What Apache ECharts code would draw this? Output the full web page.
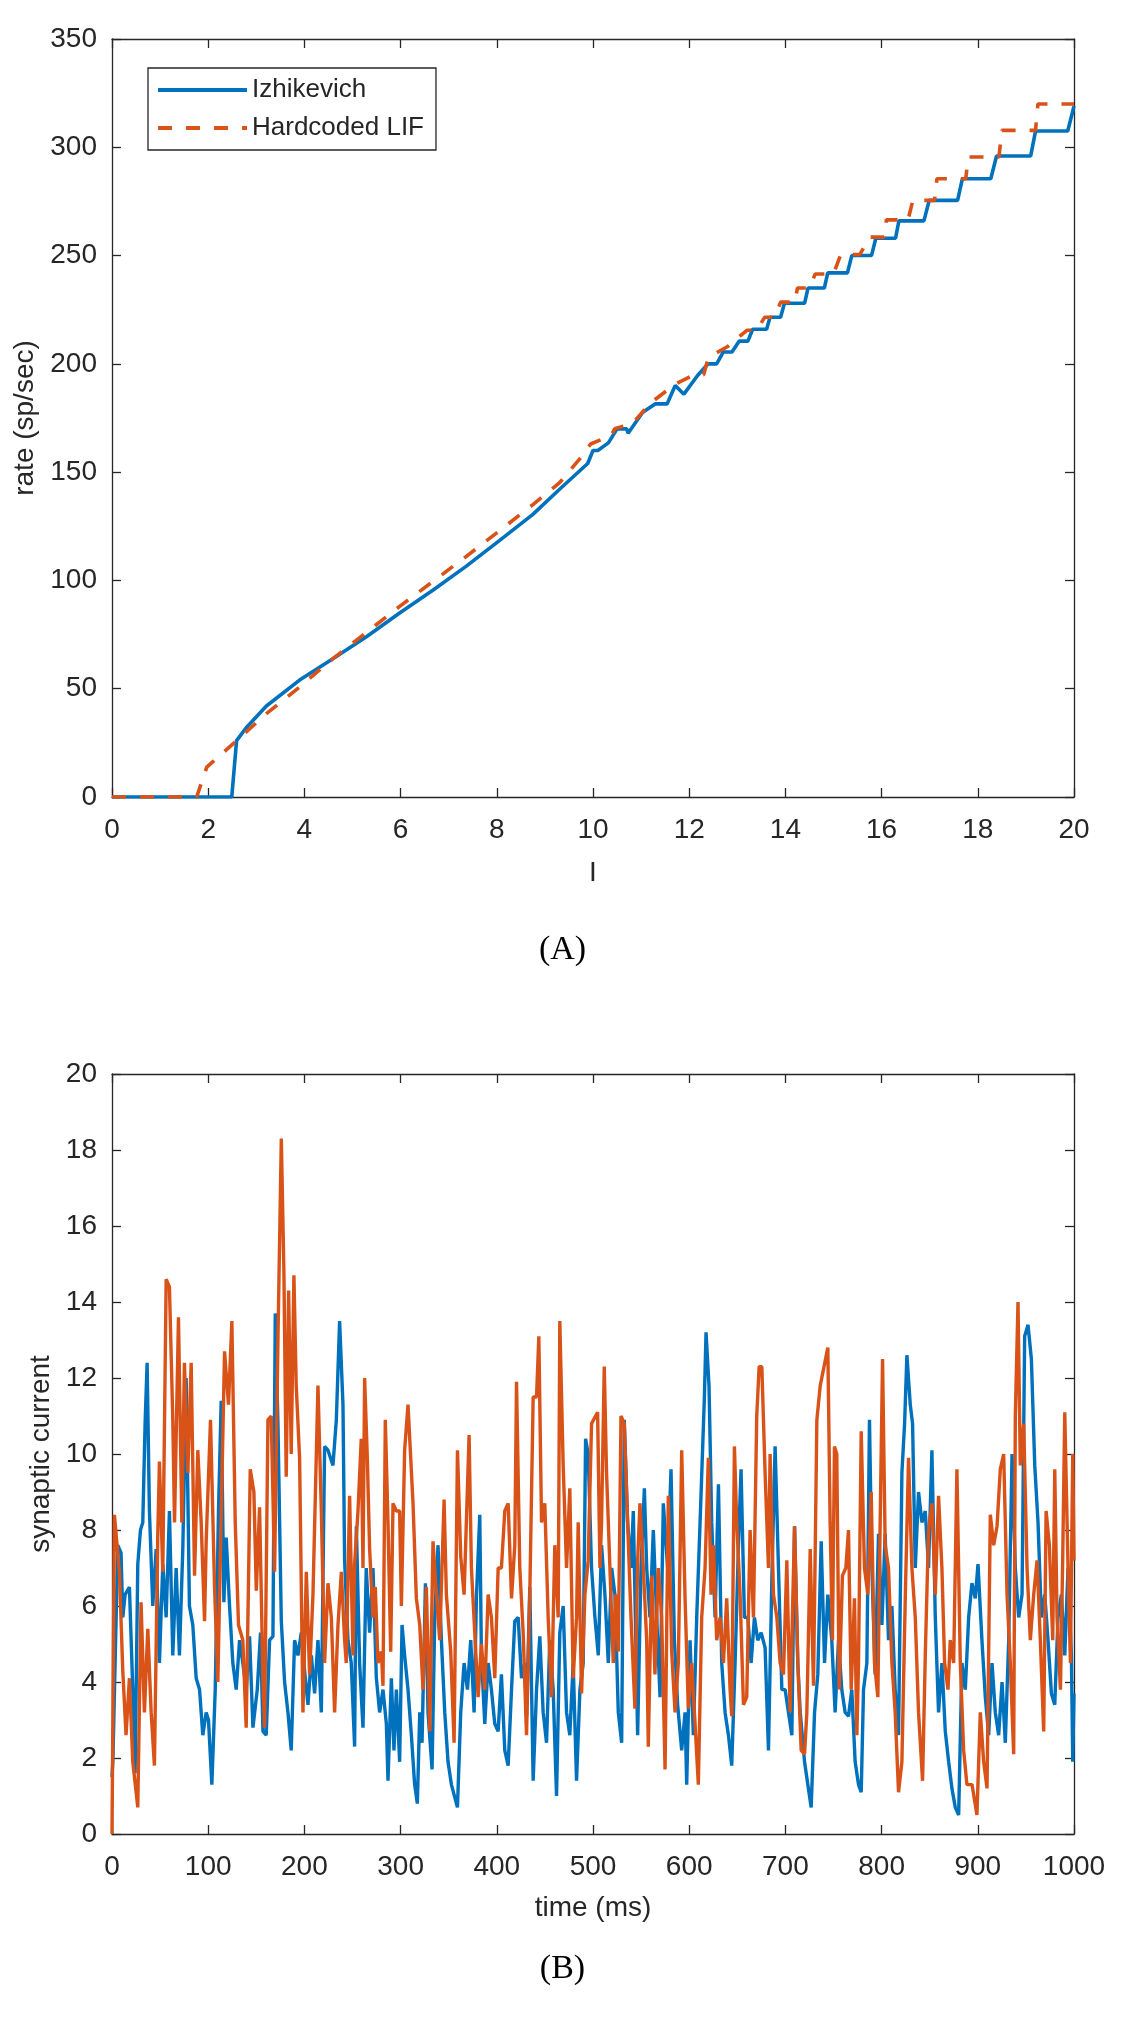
<!DOCTYPE html>
<html>
<head>
<meta charset="utf-8">
<title>Izhikevich vs hardcoded LIF</title>
<script src="https://cdn.jsdelivr.net/npm/echarts@6.0.0/dist/echarts.min.js"></script>
<style>
  html, body { margin: 0; padding: 0; background: #fff; }
  #chart { width: 1125px; height: 2018px; }
</style>
</head>
<body>
<div id="chart"></div>
<script>
// ---- panel A : f-I curves ----
const izhInput = [0, 2.49, 2.59, 2.79, 3.21, 3.9, 4.6, 5.29, 5.98, 6.67, 7.36, 8.06, 8.75, 9.3, 9.89, 10.0, 10.1, 10.32, 10.5, 10.7,
  10.73, 11.03, 11.29, 11.54, 11.71, 11.89, 12.17, 12.39, 12.57, 12.71, 12.89, 13.04, 13.22, 13.32, 13.61, 13.68, 13.9, 13.98, 14.4, 14.47,
  14.81, 14.88, 15.29, 15.38, 15.79, 15.88, 16.29, 16.36, 16.88, 16.99, 17.58, 17.68, 18.27, 18.39, 19.1, 19.2, 19.87, 20];
const izhRate = [0, 0, 26, 32, 42, 54, 64, 74, 85, 95.5, 106.5, 118.5, 130.5, 142, 154, 160, 160, 163.5, 170, 170,
  168, 177.5, 181.5, 181.5, 190, 186, 194.5, 200, 200, 205.5, 205.5, 210.5, 210.5, 216, 216, 221.5, 221.5, 228, 228, 235,
  235, 242, 242, 250, 250, 258, 258, 266, 266, 275.5, 275.5, 285.5, 285.5, 296, 296, 307.5, 307.5, 319];

const lifInput = [0, 1.76, 1.97, 2.52, 3.21, 3.9, 4.6, 5.29, 5.98, 6.67, 7.36, 8.06, 8.75, 9.3, 9.72, 9.95, 10.38, 10.45, 10.76, 10.9,
  11.2, 11.7, 12.1, 12.3, 12.4, 12.8, 13.2, 13.4, 13.57, 13.78, 13.9, 14.2, 14.25, 14.5, 14.62, 15.0, 15.15, 15.55, 15.75, 16.05,
  16.1, 16.55, 16.65, 17.1, 17.15, 17.75, 17.8, 18.44, 18.5, 19.2, 19.25, 20];
const lifRate = [0, 0, 13.8, 24.6, 38.5, 50.8, 64, 76, 88, 99.5, 111, 123, 135, 145, 156, 163, 167, 170, 172, 174.5,
  182, 190.5, 195, 195, 203, 208, 215.5, 215.5, 221.5, 221.5, 228.5, 228.5, 235, 235, 241.5, 241.5, 250.5, 250.5, 258.5, 258.5,
  266.5, 266.5, 275.5, 275.5, 285.5, 285.5, 295.5, 295.5, 307.8, 307.8, 320, 320];

// ---- panel B : synaptic current traces ----
const izhTime = [0, 1, 6, 9.4, 11.2, 13.6, 18.1, 21.6, 24, 26.8, 29.6, 32, 34.4, 36.5, 38.9, 42.4, 45.9, 49.3, 52.8, 56.3,
  59.7, 63.2, 66.7, 70.1, 73.6, 77.1, 80.5, 84, 87.5, 91, 94.4, 97.9, 100.3, 103.8, 107.3, 110.7, 113.5, 116.3, 118.7, 122.2,
  125.6, 129.1, 132.6, 136, 139.5, 143, 146.5, 151, 154.4, 156.9, 160.3, 163.8, 167.3, 169.7, 172.5, 176, 179.4, 182.9, 186.3, 189.8,
  193.3, 196.8, 200.2, 203.7, 207.2, 210.6, 214.1, 217.6, 221, 224.5, 229.7, 233.2, 236.6, 240.1,
  241.8, 245.3, 248.7, 252.2, 254, 257.4, 260.9, 264.3, 267.8, 271.3, 274.8, 278.2, 281.7, 285.2, 286.9, 290.4, 293.1, 295.6, 299, 301.5,
  304.2, 307.7, 311.2, 314.6, 317.4, 319.9, 322.3, 325.8, 328.5, 332.7, 335.5, 338.9, 342.4, 345.9, 349.3, 352.8, 359.1, 362.5, 366, 369.5,
  372.9, 376.4, 378.8, 382.3, 384, 387.5, 391, 394.4, 397.9, 401.4, 404.8, 408.3, 411.8, 415.3, 418.7, 422.2, 425.7, 429.1, 430.9, 434.3,
  437.8, 441.3, 444.7, 448.2, 451.7, 455.1, 458.6, 462.1, 465.5, 469, 472.5, 475.9, 479.4, 482.9, 486.4, 489.8, 492.3, 495, 498.5,
  502, 505.5, 508.9, 512.4, 515.9, 519.4, 522.8, 526.3, 529.8, 532.5, 536, 539.5, 541.9, 546.4, 549.9, 553.4, 555.8, 559.2, 562.7, 566.2,
  569.7, 573.1, 577.6, 581.1, 584.6, 588, 592.2, 595.7, 597.4, 600.9, 604.3, 607.8, 611.3, 615.8, 617.5, 620.6, 623.4, 626.9, 630.4, 633.8,
  637.3, 640.8, 644.2, 647.7, 651.2, 653.9, 657.4, 660.9, 664.4, 667.8, 671.3, 674.8, 678.9, 682.4, 685.9, 689.3, 692.8, 696.3, 699.7, 703.2,
  706.7, 709.5, 712.9, 715.4, 719.9, 723.3, 726.8, 730.3, 733.7, 737.2, 740.7, 744.1,
  748.2, 751.7, 755.2, 758.6, 762.1, 765.6, 769, 772.5, 776, 778.8, 781.2, 784.7, 787.4, 789.9, 793.3, 796.8, 800.3, 803.7, 807.2, 810.7,
  814.1, 817.6, 821.1, 823.9, 826.3, 829.8, 832.2, 835, 838.4, 841.9, 845.4, 848.8, 852.3, 855.8, 859.2, 862.7, 866.2, 869.7, 873.1, 876.6,
  880.1, 883.5, 887, 890.5, 893.9, 897.4, 900.2, 904.3, 907.8, 911.3, 914.8, 918.2, 921.7, 925.2, 928.6, 932.1, 935.6, 939, 942.5, 946,
  948.7, 952.2, 955.7, 959.2, 962.6, 966.1, 969.6, 973, 976.5, 980, 983.4, 986.9, 990.4, 993.8, 997.3, 998.7, 1000];
const izhCurrent = [1.5, 2.0, 7.6, 7.4, 5.7, 6.3, 6.5, 3.8, 1.6, 7.1, 8.0, 8.2, 10.8, 12.4, 8.5, 6.0, 7.5, 4.5, 7.1, 5.7,
  8.5, 4.7, 7.0, 4.7, 7.5, 12.0, 6.0, 5.5, 4.1, 3.8, 2.6, 3.2, 3.0, 1.3, 3.8, 8.5, 11.4, 6.1, 7.8, 6.0,
  4.5, 3.8, 5.1, 4.5, 3.8, 5.2, 2.8, 3.8, 5.3, 2.7, 2.6, 5.1, 5.2, 13.7, 10.8, 5.6, 4.0, 3.2, 2.2, 5.1,
  4.7, 5.3, 4.3, 3.4, 4.7, 3.7, 5.1, 3.2, 10.2, 10.1, 9.7, 10.9, 13.5, 11.3,
  7.2, 5.1, 4.5, 2.3, 8.1, 4.5, 2.8, 7.0, 5.3, 7.0, 4.1, 3.2, 3.8, 2.9, 1.4, 4.1, 2.2, 3.8, 1.9, 5.5,
  4.7, 3.8, 2.6, 1.3, 0.8, 3.2, 2.4, 6.6, 3.2, 1.7, 5.7, 7.6, 5.1, 3.2, 1.9, 1.3, 0.7, 3.2, 4.5, 3.8,
  5.1, 3.2, 6.2, 8.4, 4.7, 2.9, 4.5, 3.8, 2.9, 2.7, 4.2, 2.2, 1.8, 3.8, 5.6, 5.7, 4.1, 4.5, 3.1, 6.5,
  1.4, 3.8, 5.2, 3.2, 2.4, 5.1, 3.8, 1.0, 5.3, 6.0, 3.2, 2.6, 4.5, 1.4, 3.8, 4.5, 10.4, 10.0, 7.0,
  5.7, 4.7, 7.6, 6.3, 4.5, 7.0, 6.3, 3.2, 2.4, 10.9, 8.2, 7.0, 8.5, 2.6, 7.0, 9.1, 7.0, 5.7, 8.0, 5.7,
  3.6, 8.7, 7.0, 9.6, 5.1, 3.4, 2.2, 3.2, 1.3, 5.1, 2.6, 5.7, 8.2, 11.5, 13.2, 11.8, 8.2, 5.7, 9.2, 4.5,
  3.2, 2.6, 1.8, 4.5, 7.6, 9.6, 5.7, 5.7, 4.5, 5.7, 5.1, 5.3, 4.9, 2.2, 6.7, 10.2, 7.0, 3.8, 3.8, 3.2,
  2.6, 8.1, 4.5, 3.2, 1.9, 1.3, 0.7, 3.2, 4.2, 7.7, 4.5, 6.3,
  5.1, 3.2, 5.1, 3.8, 3.2, 3.1, 3.8, 1.9, 1.3, 1.1, 3.8, 4.5, 10.9, 7.0, 4.2, 7.9, 5.5, 7.9, 5.1, 6.0,
  3.8, 2.6, 9.5, 10.8, 12.6, 11.3, 10.8, 7.0, 9.0, 8.2, 8.5, 7.0, 10.1, 5.7, 3.2, 4.5, 2.7, 1.9, 1.2, 0.7,
  0.5, 4.5, 3.8, 5.7, 6.6, 6.2, 7.1, 5.1, 3.6, 2.6, 4.5, 3.2, 2.6, 4.0, 2.4, 5.1, 10.0, 7.0, 5.7, 6.3,
  13.1, 13.4, 12.5, 9.7, 8.2, 5.7, 6.3, 5.1, 3.7, 3.4, 5.7, 6.3, 4.7, 7.0, 4.7, 1.9, 3.7];

const lifTime = [0, 2.5, 7.7, 11.2, 14.6, 18.1, 21.6, 26.8, 30.2, 33.7, 37.2, 40.7, 44.1, 47.6, 49.3, 52.8, 56.3, 59.7, 63.2, 65,
  69.1, 72.6, 75.3, 78.8, 82.3, 85.8, 89.2, 92.7, 96.2, 97.9, 102.4, 106.6, 110, 117, 121.1, 124.6, 128.1, 131.5, 136, 139.5,
  143.7, 147.5, 150, 153.4, 156.9, 158.6, 162.1, 165.5, 169, 172.5, 176, 178.7, 181.1, 183.6, 186.3, 189.1, 191.5, 195, 198.5, 202,
  205.4, 208.9, 214.1, 217.6, 221, 224.5, 228, 231.4, 234.9, 238.4, 241.8,
  243.5, 247, 250.5, 252.2, 255.7, 259.1, 260.9, 262.6, 265.4, 267.8, 271.3, 273.7, 276.5, 280, 281.7, 284.1, 286.9, 289.7, 292.1, 295.6,
  299, 300.8, 304.2, 307.7, 309.4, 312.9, 316.4, 319.9, 323.3, 326.8, 330.3, 333.7, 337.2, 340.7, 345.2, 347.6, 352.1, 355.6, 359.1, 362.5,
  366, 371.2, 373.6, 377.1, 380.6, 384, 387.5, 391, 394.4, 397.9, 401.4, 404.8, 408.3, 411.8, 415.3, 418.7, 420.5, 423.9, 427.4, 430.9,
  434.3, 437.8, 441.3, 443.7, 446.5, 449.9, 453.4, 456.9, 460.3, 463.8, 465.5, 469, 472.5, 475.9, 479.4, 482.9, 484.6, 488.1, 491.6, 495, 498.5,
  504.8, 507.2, 508.9, 511.7, 514.1, 517.6, 521.1, 523.5, 526.3, 529.1, 532.5, 536, 539.5, 543.6, 546.4, 548.8, 552.3, 555.8, 557.5, 561,
  564.4, 567.9, 571.4, 574.9, 578.3, 581.8, 585.3, 588.7, 592.2, 595.7, 599.1, 602.6, 606.1, 609.5, 613, 616.5, 619.9, 622.7, 625.2, 628.6,
  632.1, 635.6, 639, 642.5, 644.2, 647, 649.4, 652.9, 656.4, 659.8, 663.3, 666.8, 670.2, 672.7, 675.5, 678.9, 682.4, 684.1, 687.6, 691.1,
  694.5, 698, 701.5, 704.9, 709.5, 712.9, 716.4, 719.9, 722.3, 725.8, 729.2, 732.7, 736.2,
  744.1, 746.5, 748.9, 751, 753.4, 755.9, 759.3, 762.8, 765.6, 768.4, 771.8, 774.3, 776, 778.8, 782.2, 785.7, 789.2, 792.6, 796.1, 798.5,
  801, 803.7, 807.2, 810.7, 814.1, 817.6, 821.1, 824.6, 828, 831.5, 835, 838.4, 842.6, 845.4, 848.8, 852.3, 855.8, 859.2, 862.7, 865.5,
  869, 871.4, 874.9, 878.3, 881.8, 885.3, 888.7, 894, 899.1, 902.6, 906.1, 909.6, 913, 916.5, 920, 923.4, 926.9, 930.4, 933.8, 937.3,
  939, 941.8, 944.2, 947.7, 951.2, 954.6, 958.1, 961.6, 965, 968.5, 971, 974.4, 977.9, 980, 982.4, 985.9, 988.3, 990.4, 993.8, 996.3,
  998.7, 1000];
const lifCurrent = [0, 8.4, 6.9, 4.3, 2.6, 4.1, 1.9, 0.7, 6.1, 3.2, 5.4, 3.2, 1.8, 7.9, 9.8, 6.9, 14.6, 14.4, 10.9, 8.2,
  13.6, 8.2, 12.4, 9.5, 12.4, 6.8, 10.1, 8.2, 5.6, 7.7, 10.9, 6.5, 4.0, 12.7, 11.3, 13.5, 8.2, 5.5, 5.1, 2.8,
  9.6, 9.0, 6.4, 8.6, 4.1, 2.8, 10.9, 11.0, 6.9, 13.0, 18.3, 14.8, 9.4, 14.3, 10.0, 14.7, 11.8, 9.9, 3.2, 6.9,
  4.2, 6.3, 11.8, 8.5, 4.5, 6.6, 5.7, 3.2, 5.5, 6.9, 5.1,
  4.5, 8.9, 4.7, 7.1, 8.5, 10.4, 7.0, 12.0, 9.9, 7.5, 5.7, 6.5, 4.5, 4.8, 3.9, 10.9, 8.2, 4.8, 8.7, 8.5,
  8.5, 6.0, 10.1, 11.3, 11.3, 8.7, 6.2, 5.5, 3.8, 6.5, 2.7, 7.7, 6.3, 5.1, 8.8, 6.3, 4.8, 2.4, 10.1, 7.3,
  6.3, 10.5, 7.0, 5.3, 3.6, 5.0, 3.8, 6.3, 5.7, 4.1, 7.0, 7.0, 8.5, 8.7, 6.2, 7.6, 11.9, 7.0, 5.3, 2.6,
  6.3, 11.5, 11.5, 13.1, 8.2, 8.7, 5.7, 3.6, 7.6, 5.7, 13.5, 9.7, 7.0, 9.1, 4.1, 5.7, 8.2, 3.7, 6.3, 7.2, 10.8,
  11.1, 7.0, 8.2, 12.3, 9.5, 7.0, 4.5, 6.3, 4.8, 11.0, 10.8, 8.2, 5.7, 3.3, 7.2, 8.7, 7.0, 5.1, 2.3, 6.8,
  4.2, 7.0, 5.7, 1.7, 8.9, 4.8, 3.2, 4.5, 10.1, 6.2, 3.3, 4.5, 2.9, 1.3, 5.7, 7.0, 9.9, 6.3, 7.6, 5.1,
  5.7, 4.5, 6.2, 3.8, 3.1, 10.2, 8.2, 6.3, 3.4, 3.6, 8.0, 5.7, 11.0, 12.3, 12.3, 9.5, 7.0, 10.0, 6.3, 5.7,
  4.5, 4.2, 7.2, 3.2, 8.1, 4.5, 2.2, 2.1, 3.2, 7.5, 3.9, 10.9, 11.8,
  12.8, 8.2, 5.1, 10.2, 10.0, 3.8, 6.8, 7.0, 8.0, 3.8, 6.2, 2.6, 4.5, 10.6, 7.0, 6.3, 9.0, 4.5, 3.6, 8.2,
  12.5, 7.6, 7.0, 4.5, 3.2, 1.1, 1.9, 6.2, 9.9, 7.0, 5.7, 3.2, 1.4, 4.7, 8.0, 8.7, 6.3, 8.9, 7.0, 4.5,
  3.8, 5.1, 4.5, 9.6, 4.5, 2.2, 1.3, 1.3, 0.5, 3.2, 1.9, 1.2, 8.4, 7.6, 8.1, 9.6, 10.0, 6.3, 4.5, 2.1,
  11.0, 14.0, 9.7, 10.8, 7.0, 5.1, 6.3, 7.2, 5.1, 2.7, 8.5, 7.6, 5.1, 9.6, 5.7, 3.8, 7.3, 11.1, 7.0, 4.5,
  10.0, 7.2];

// axis ranges: [min, max, step]
const inputRange = [0, 20, 2];
const rateRange = [0, 350, 50];
const timeRange = [0, 1000, 100];
const currentRange = [0, 20, 2];

const INK = '#262626';
const SANS = 'Liberation Sans, Arial, Helvetica, sans-serif';
const BLUE = '#0072BD';
const ORANGE = '#D95319';

const pairs = (xs, ys) => xs.map((x, i) => [x, ys[i]]);

// MATLAB style box: labelled bottom/left axes, bare top/right axes, ticks inside
function axis(grid, pos, range, extra) {
  const labelled = pos === 'bottom' || pos === 'left';
  return Object.assign({
    type: 'value',
    gridIndex: grid,
    position: pos,
    min: range[0],
    max: range[1],
    interval: range[2],
    axisLine: { show: true, onZero: false, lineStyle: { color: INK, width: 1.3 } },
    axisTick: { show: true, inside: true, length: 9, lineStyle: { color: INK, width: 1.3 } },
    axisLabel: {
      show: labelled, color: INK, fontSize: 28, fontFamily: SANS,
      margin: (pos === 'bottom') ? 19 : 15,
      formatter: v => String(v)   // no thousands separator ("1000")
    },
    splitLine: { show: false }
  }, extra || {});
}

const nameStyle = { color: INK, fontSize: 28, fontFamily: SANS };

const chart = echarts.init(document.getElementById('chart'), null, { renderer: 'canvas' });

chart.setOption({
  animation: false,
  backgroundColor: '#ffffff',
  title: [
    { text: '(A)', left: 'center', top: 928,
      textStyle: { fontFamily: 'Liberation Serif, serif', fontSize: 34, fontWeight: 'normal', color: '#000' } },
    { text: '(B)', left: 'center', top: 1947,
      textStyle: { fontFamily: 'Liberation Serif, serif', fontSize: 34, fontWeight: 'normal', color: '#000' } }
  ],
  grid: [
    { left: 112, top: 39, width: 962, height: 758, containLabel: false, outerBoundsMode: 'none' },
    { left: 112, top: 1074, width: 962, height: 760, containLabel: false, outerBoundsMode: 'none' }
  ],
  legend: {
    data: ['Izhikevich', 'Hardcoded LIF'],
    orient: 'vertical',
    left: 148,
    top: 68,
    padding: [9, 12, 9, 8],
    itemWidth: 89,
    itemHeight: 4,
    itemGap: 12,
    backgroundColor: '#ffffff',
    borderColor: INK,
    borderWidth: 1.3,
    borderRadius: 0,
    itemStyle: { opacity: 0 },            // hide the marker dot in the middle of the line icon
    lineStyle: { width: 4 },
    textStyle: { color: INK, fontSize: 26, fontFamily: SANS }
  },
  xAxis: [
    axis(0, 'bottom', inputRange, { name: 'I', nameLocation: 'middle', nameGap: 62, nameTextStyle: nameStyle }),
    axis(0, 'top', inputRange),
    axis(1, 'bottom', timeRange, { name: 'time (ms)', nameLocation: 'middle', nameGap: 60, nameTextStyle: nameStyle }),
    axis(1, 'top', timeRange)
  ],
  yAxis: [
    axis(0, 'left', rateRange, { name: 'rate (sp/sec)', nameLocation: 'middle', nameGap: 56, nameTextStyle: nameStyle }),
    axis(0, 'right', rateRange),
    axis(1, 'left', currentRange, { name: 'synaptic current', nameLocation: 'middle', nameGap: 56, nameTextStyle: nameStyle }),
    axis(1, 'right', currentRange)
  ],
  series: [
    {
      name: 'Izhikevich', type: 'line', xAxisIndex: 0, yAxisIndex: 0,
      data: pairs(izhInput, izhRate),
      symbol: 'none', showSymbol: false,
      lineStyle: { color: BLUE, width: 3.6 }, itemStyle: { color: BLUE }
    },
    {
      name: 'Hardcoded LIF', type: 'line', xAxisIndex: 0, yAxisIndex: 0,
      data: pairs(lifInput, lifRate),
      symbol: 'none', showSymbol: false,
      lineStyle: { color: ORANGE, width: 3.6, type: [14, 14] }, itemStyle: { color: ORANGE }
    },
    {
      name: 'Izhikevich current', type: 'line', xAxisIndex: 2, yAxisIndex: 2,
      data: pairs(izhTime, izhCurrent),
      symbol: 'none', showSymbol: false,
      lineStyle: { color: BLUE, width: 3.4 }, itemStyle: { color: BLUE }
    },
    {
      name: 'LIF current', type: 'line', xAxisIndex: 2, yAxisIndex: 2,
      data: pairs(lifTime, lifCurrent),
      symbol: 'none', showSymbol: false,
      lineStyle: { color: ORANGE, width: 3.4 }, itemStyle: { color: ORANGE }
    }
  ]
});
</script>
</body>
</html>
